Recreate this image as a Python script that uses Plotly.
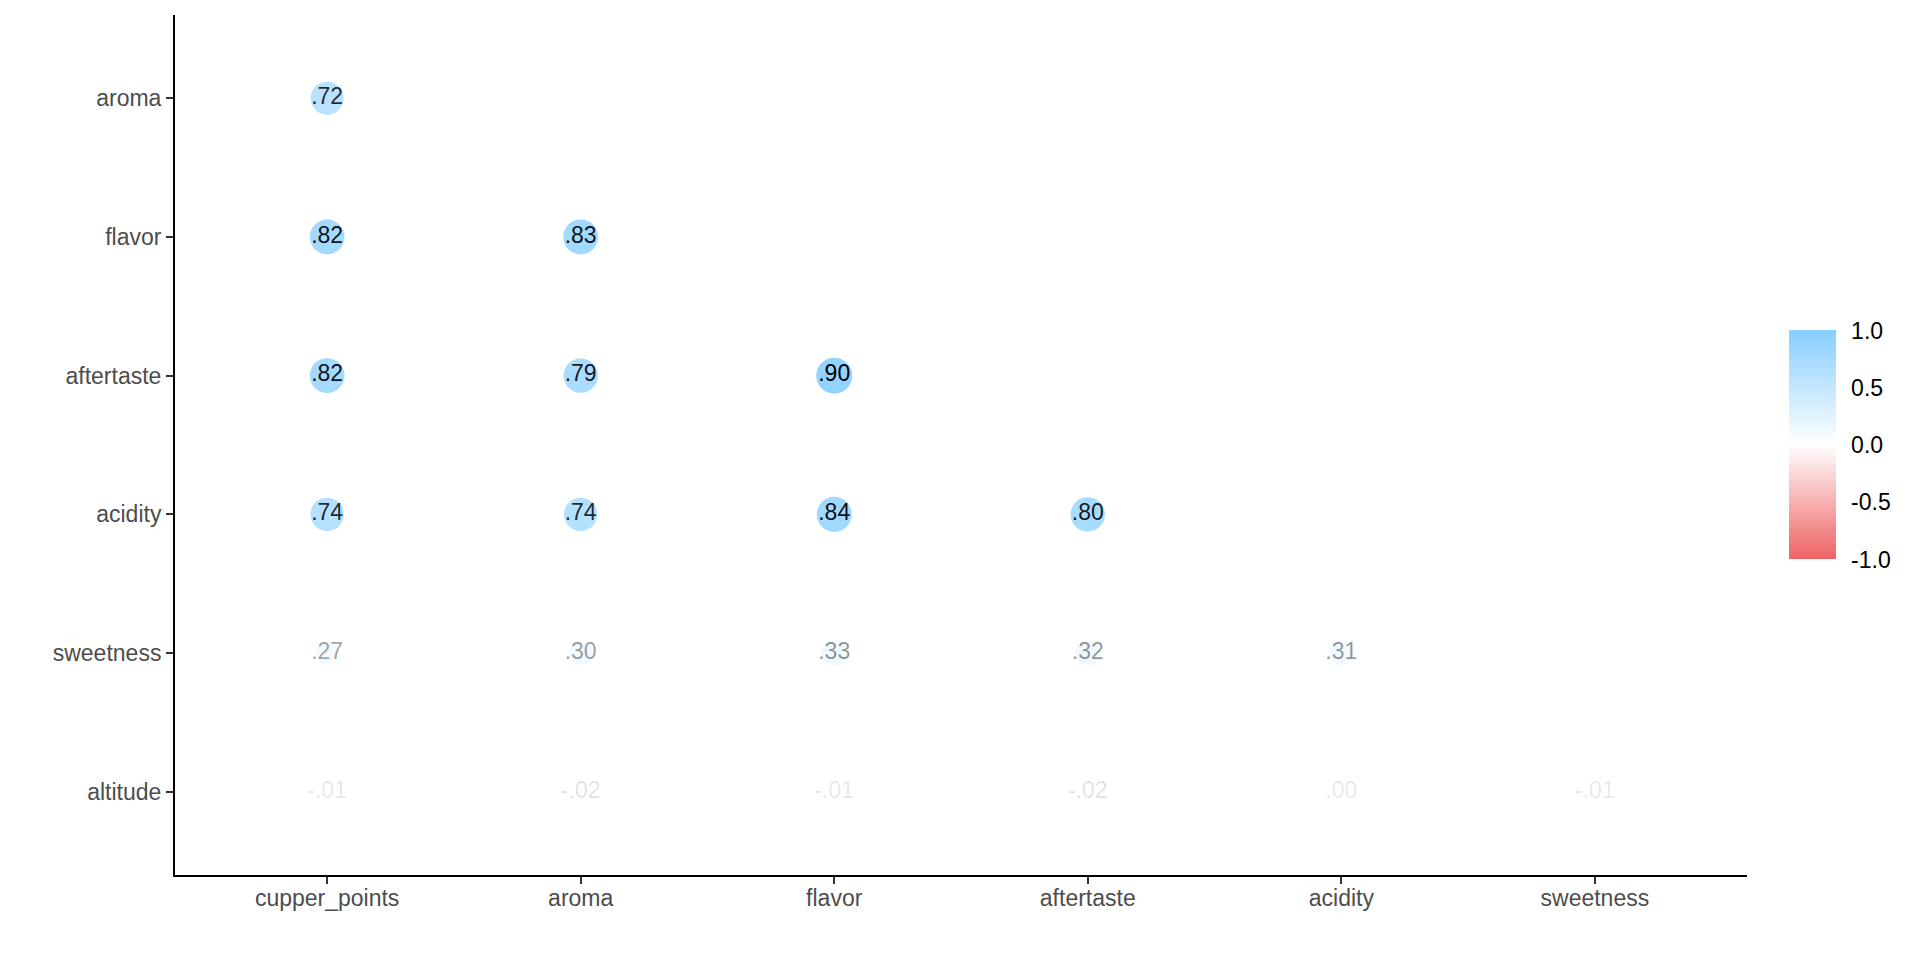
import plotly.graph_objects as go

################################
# Correlation data (lower triangle)
col_names = ["cupper_points", "aroma", "flavor", "aftertaste", "acidity", "sweetness"]
row_names = ["aroma", "flavor", "aftertaste", "acidity", "sweetness", "altitude"]

r_aroma      = [0.72]
r_flavor     = [0.82, 0.83]
r_aftertaste = [0.82, 0.79, 0.90]
r_acidity    = [0.74, 0.74, 0.84, 0.80]
r_sweetness  = [0.27, 0.30, 0.33, 0.32, 0.31]
r_altitude   = [-0.01, -0.02, -0.01, -0.02, 0.00, -0.01]

all_rows = [r_aroma, r_flavor, r_aftertaste, r_acidity, r_sweetness, r_altitude]

colorbar_ticks = [-1.0, -0.5, 0.0, 0.5, 1.0]

################################
# Flatten into long form
xs, ys, rs = [], [], []
for row_name, row_vals in zip(row_names, all_rows):
    for col_name, r in zip(col_names, row_vals):
        xs.append(col_name)
        ys.append(row_name)
        rs.append(r)


def fashion(v):
    # ".72" style, no leading zero
    s = "%.2f" % v
    if s.startswith("-0"):
        s = "-" + s[2:]
    elif s.startswith("0"):
        s = s[1:]
    return s


abs_r = [abs(v) for v in rs]
lo, hi = min(abs_r), max(abs_r)
scaled = [(a - lo) / (hi - lo) for a in abs_r]

# ggplot-ish size (area) and alpha scales
sizes = []
for t in scaled:
    s_mm = 1 + 5 * t ** 0.5
    sizes.append(2.0 * (s_mm * 2.845 + 0.945))
alphas = [0.1 + 0.9 * t for t in scaled]
text_colors = ["rgba(0,0,0,%.3f)" % a for a in alphas]
labels = [fashion(v) for v in rs]

FONT = "Liberation Sans, Arial, Helvetica, sans-serif"

fig = go.Figure()

fig.add_trace(
    go.Scatter(
        x=xs,
        y=ys,
        mode="markers",
        marker=dict(
            size=sizes,
            color=rs,
            cmin=-1,
            cmax=1,
            colorscale=[[0.0, "#EE6363"], [0.5, "#FFFFFF"], [1.0, "#87CEFF"]],
            opacity=alphas,
            line=dict(width=0),
            showscale=True,
            colorbar=dict(
                x=1.027,
                xanchor="left",
                xpad=0,
                y=0.5,
                yanchor="middle",
                ypad=0,
                thickness=47,
                len=229,
                lenmode="pixels",
                outlinewidth=0,
                tickvals=colorbar_ticks,
                ticktext=["%.1f" % v for v in colorbar_ticks],
                ticks="outside",
                ticklen=11,
                tickcolor="white",
                tickfont=dict(family=FONT, size=23, color="black"),
            ),
        ),
        hoverinfo="skip",
        showlegend=False,
    )
)

fig.add_trace(
    go.Scatter(
        x=xs,
        y=ys,
        mode="text",
        text=labels,
        textposition="middle center",
        textfont=dict(family=FONT, size=23, color=text_colors),
        hoverinfo="skip",
        showlegend=False,
    )
)

axis_common = dict(
    type="category",
    showline=True,
    linecolor="black",
    linewidth=2,
    ticks="outside",
    ticklen=7,
    tickwidth=2,
    tickcolor="#333333",
    showgrid=False,
    zeroline=False,
    tickfont=dict(family=FONT, size=23, color="#4D4D4D"),
)

# the page body adds a small offset, so the figure is a bit smaller and margins are trimmed
fig.update_layout(
    width=1912,
    height=952,
    paper_bgcolor="white",
    plot_bgcolor="white",
    margin=dict(l=167, r=173, t=7, b=85),
    xaxis=dict(axis_common, categoryorder="array", categoryarray=col_names,
               range=[-0.6, 5.6], ticklabelstandoff=-6),
    yaxis=dict(axis_common, categoryorder="array", categoryarray=row_names, range=[5.6, -0.6]),
)

fig.write_html("out.html")
